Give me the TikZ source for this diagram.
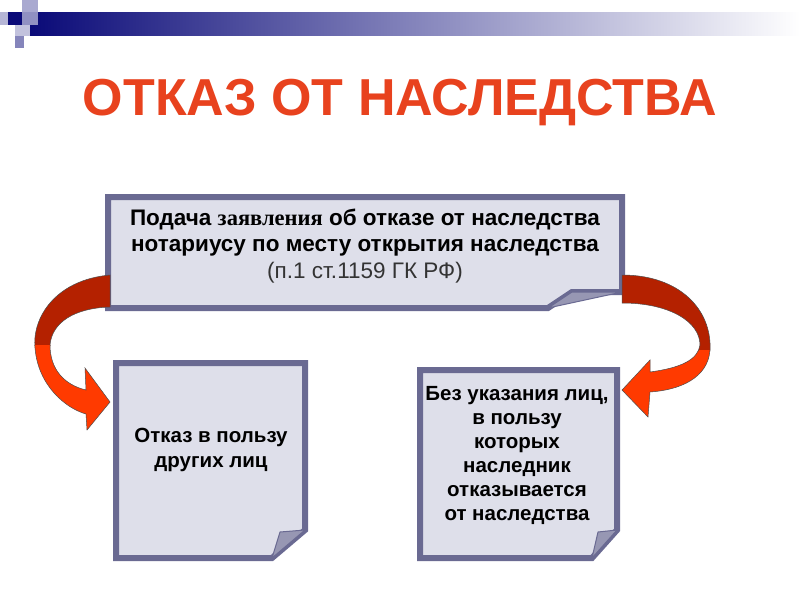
\documentclass[tikz,border=0pt]{standalone}
\usepackage{fontspec}
\setmainfont{Liberation Sans}
\newfontfamily\serifb{Liberation Serif}
\begin{document}
\begin{tikzpicture}[x=1pt,y=-1pt,
  boxst/.style={draw=frame,line width=6pt,fill=boxfill,line join=miter},
  foldst/.style={fill=frame!70!white,draw=frame,line width=1pt},
  txt/.style={font=\bfseries\fontsize{20.5}{25}\selectfont,align=center,text=black},
  arrdark/.style={fill=arrowdark,draw=black!70,line width=0.5pt},
  arrlight/.style={fill=arrowlight,draw=black!70,line width=0.5pt}]
\definecolor{frame}{HTML}{6A6A92}
\definecolor{boxfill}{HTML}{DEDFEA}
\definecolor{navy}{HTML}{0A0A78}
\definecolor{titlered}{HTML}{E8421E}
\definecolor{arrowdark}{HTML}{B42100}
\definecolor{arrowlight}{HTML}{FF3A00}
\useasboundingbox (0,0) rectangle (800,600);
\fill[white] (0,0) rectangle (800,600);
% header
\shade[left color=navy,right color=white] (30,12) rectangle (800,35);
\fill[navy] (8,12) rectangle (22,25);
\fill[navy!35] (22,0) rectangle (38,12);
\fill[navy!45] (22,12) rectangle (38,25);
\fill[navy!30] (0,12) rectangle (8,25);
\fill[navy!25] (15,25) rectangle (30,36);
\fill[navy!50] (15,36) rectangle (24,48);
% title
\node[text=titlered,draw=none,font=\bfseries\fontsize{52}{58}\selectfont] (title) at (400,103) {ОТКАЗ ОТ НАСЛЕДСТВА};
% top box
\draw[boxst] (108,197) -- (622,197) -- (622,292) -- (572,292) -- (548,308) -- (108,308) -- cycle;
\fill[foldst] (548,308) -- (572,292) -- (622,292) -- cycle;
\node[txt,font=\bfseries\fontsize{22.5}{26.5}\selectfont] (top) at (365,246) {Подача {\serifb\bfseries заявления} об отказе от наследства\\нотариусу по месту открытия наследства\\{\mdseries\color{black!80}(п.1 ст.1159 ГК РФ)}};
% left box
\draw[boxst] (116,363) -- (305,363) -- (305,530) -- (272,558) -- (116,558) -- cycle;
\fill[foldst] (272,558) -- (280,532) -- (305,530) -- cycle;
\node[txt] (left) at (211,450) {Отказ в пользу\\других лиц};
% right box
\draw[boxst] (420,370) -- (617,370) -- (617,530) -- (592,558) -- (420,558) -- cycle;
\fill[foldst] (592,558) -- (598,532) -- (617,530) -- cycle;
\node[txt,font=\bfseries\fontsize{20.5}{24}\selectfont] (right) at (517,455) {Без указания лиц,\\в пользу\\которых\\наследник\\отказывается\\от наследства};
% left arrow
\begin{scope}
\clip (0,250) rectangle (120,345);
\draw[arrdark] (110,275) .. controls (55,280) and (32,318) .. (35,348) .. controls (38,385) and (65,408) .. (86,414) -- (87,430) -- (110,402) -- (85,368) -- (86,390) .. controls (65,385) and (50,370) .. (50,345) .. controls (52,322) and (75,308) .. (110,307) -- cycle;
\end{scope}
\begin{scope}
\clip (0,345) rectangle (120,440);
\draw[arrlight] (110,275) .. controls (55,280) and (32,318) .. (35,348) .. controls (38,385) and (65,408) .. (86,414) -- (87,430) -- (110,402) -- (85,368) -- (86,390) .. controls (65,385) and (50,370) .. (50,345) .. controls (52,322) and (75,308) .. (110,307) -- cycle;
\end{scope}
% right arrow
\begin{scope}
\clip (610,250) rectangle (730,350);
\draw[arrdark] (622,275) .. controls (680,275) and (712,310) .. (710,350) .. controls (708,378) and (680,390) .. (650,392) -- (648,417) -- (622,390) -- (650,360) -- (650,372) .. controls (680,368) and (698,360) .. (700,345) .. controls (700,322) and (670,303) .. (622,303) -- cycle;
\end{scope}
\begin{scope}
\clip (610,350) rectangle (730,440);
\draw[arrlight] (622,275) .. controls (680,275) and (712,310) .. (710,350) .. controls (708,378) and (680,390) .. (650,392) -- (648,417) -- (622,390) -- (650,360) -- (650,372) .. controls (680,368) and (698,360) .. (700,345) .. controls (700,322) and (670,303) .. (622,303) -- cycle;
\end{scope}
\end{tikzpicture}
\end{document}
